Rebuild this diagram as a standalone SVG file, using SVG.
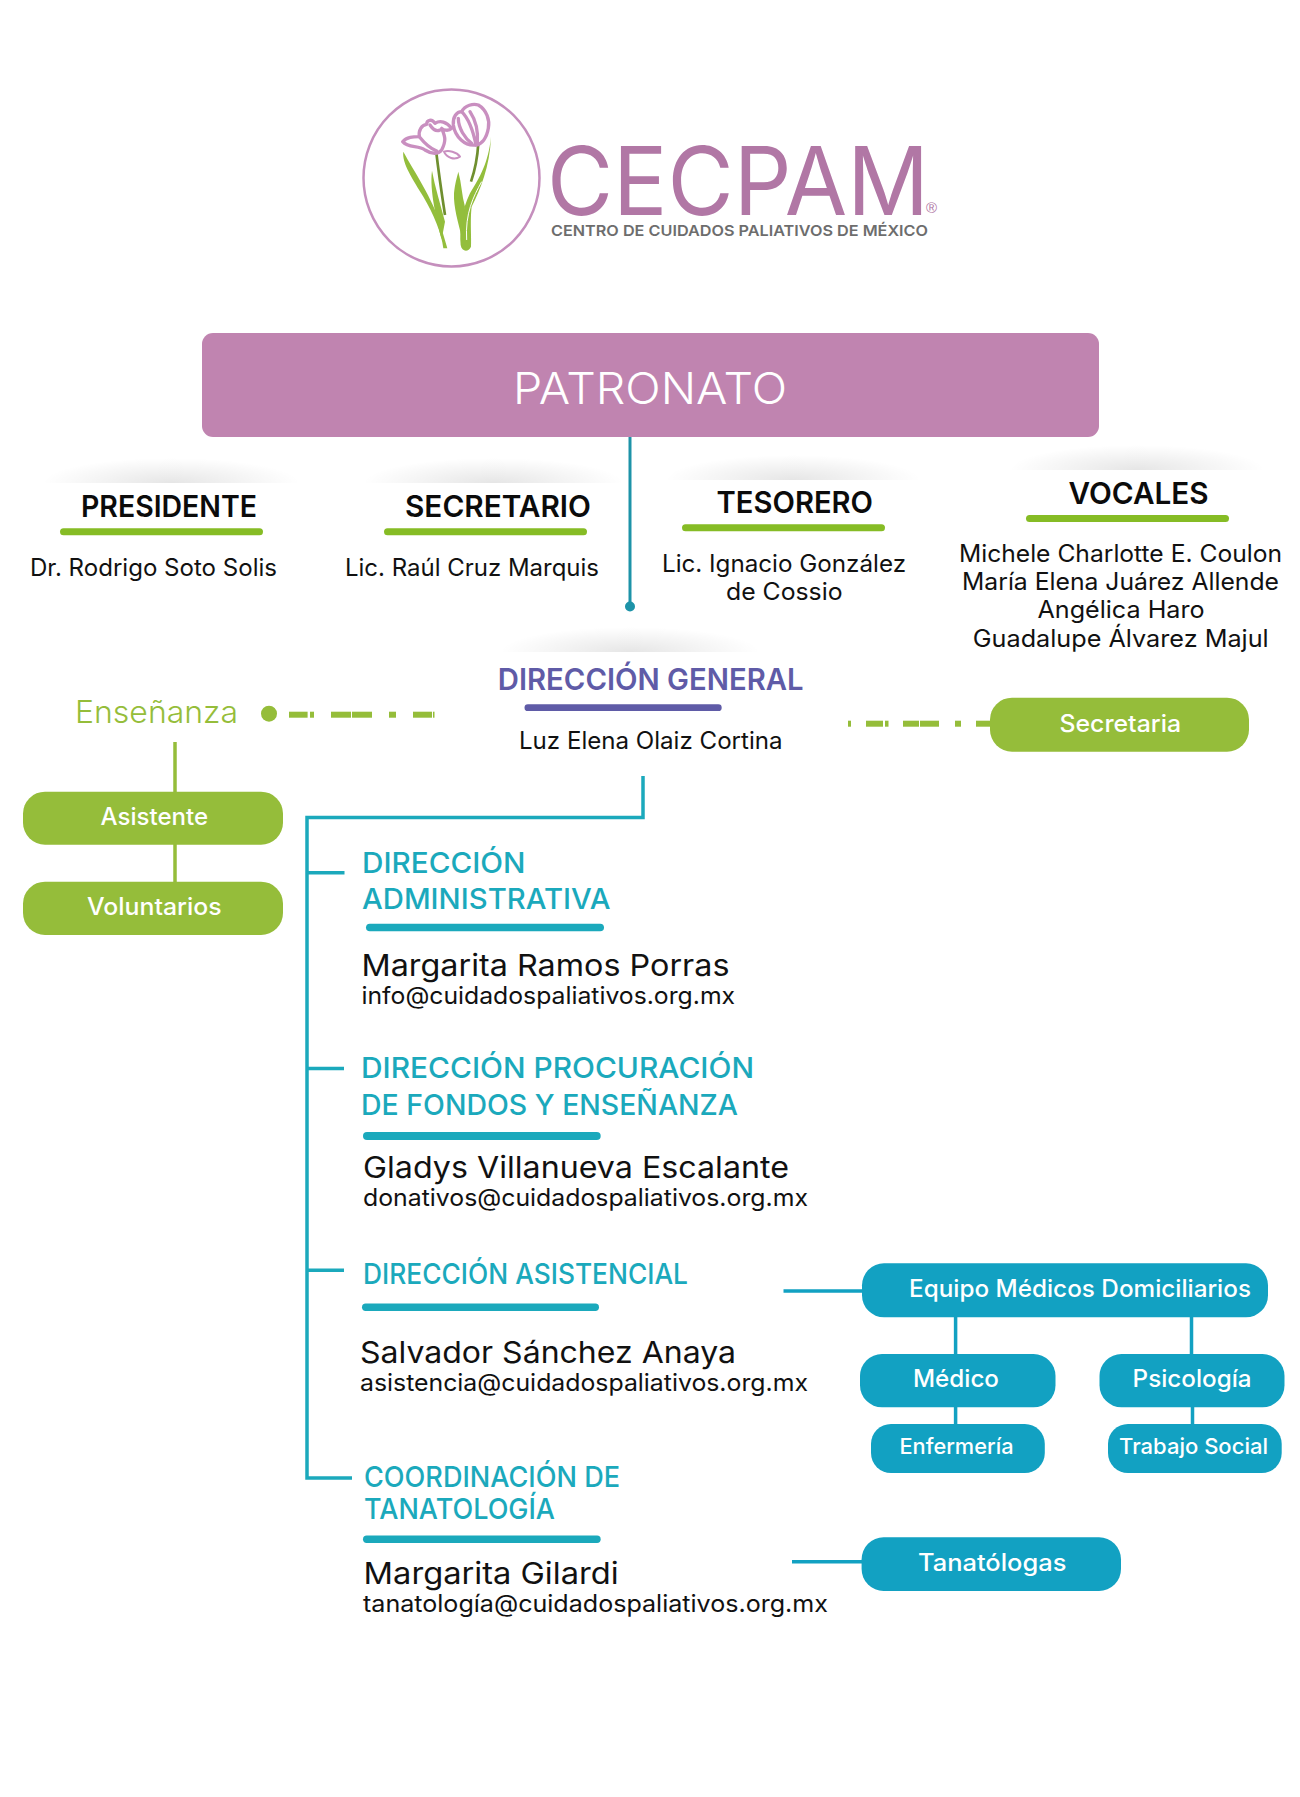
<svg xmlns="http://www.w3.org/2000/svg" width="1300" height="1797" viewBox="0 0 1300 1797">
<style>
text{font-family:"Inter","Noto Sans","Liberation Sans",sans-serif}
.h{font-size:30px;font-weight:600;fill:#0b0b0b}
.n{font-size:24px;font-weight:400;fill:#111}
.bar{fill:#86bc25}
.tbar{fill:#1ba9bc}
.th{font-size:28.5px;font-weight:500;fill:#1ba9bc}
.pn{font-size:30px;font-weight:400;fill:#111}
.em{font-size:24px;font-weight:400;fill:#111}
.gp{fill:#95bd3a}
.bp{fill:#12a1c2}
.pt{font-size:24px;font-weight:500;fill:#fff}
.ps{font-size:22px}
.sh{fill:url(#shade)}
.tl{fill:none;stroke:#1ba9bc;stroke-width:3.5}
.bl{fill:none;stroke:#12a1c2;stroke-width:3.5}
.gl{fill:none;stroke:#95bd3a;stroke-width:3.5}
.gd{fill:#95bd3a}
.pet{fill:none;stroke:#c98fc0;stroke-width:10;stroke-linecap:round;stroke-linejoin:round}
.leaf{fill:#93be3c}
</style>
<defs>
<radialGradient id="shade" cx="0.5" cy="1" r="1" gradientTransform="translate(.5 1) scale(.5 1) translate(-.5 -1)">
<stop offset="0" stop-color="#000" stop-opacity=".1"/>
<stop offset="1" stop-color="#000" stop-opacity="0"/>
</radialGradient>
</defs>
<rect width="1300" height="1797" fill="#fff"/>

<g id="logo">
<ellipse cx="451.5" cy="178" rx="88" ry="88.5" fill="none" stroke="#c58fbd" stroke-width="2.5"/>
<g transform="translate(390 150) scale(.3333)">
<path class="leaf" d="M40 5C70 60 130 150 150 220L172 295L160 295C155 250 130 190 100 140C70 90 35 40 40 5Z"/>
<path class="leaf" d="M126 62C135 110 150 160 165 215L155 268C140 210 118 120 126 62Z"/>
<path d="M138 0C145 60 155 130 165 195" fill="none" stroke="#6f8f2f" stroke-width="8"/>
<path d="M265 -20C262 30 255 60 243 95" fill="none" stroke="#6f8f2f" stroke-width="8"/>
<path class="leaf" d="M303 -40C300 50 270 120 245 170C240 210 245 270 243 290C235 308 215 305 212 285C208 240 215 180 240 130C270 80 295 40 303 -40Z"/>
<path class="leaf" d="M205 65C215 100 215 135 225 170L215 260C205 220 190 170 192 130C195 100 200 85 205 65Z"/>
<path d="M275 95C250 140 225 190 230 270" fill="none" stroke="#fff" stroke-width="3"/>
<g transform="translate(0 -165)">
<path class="pet" d="M258 150C225 155 195 125 190 90C188 65 200 50 215 50C225 30 250 25 265 30C290 45 300 75 295 100C290 130 275 148 258 150Z"/>
<path class="pet" d="M215 50C235 70 250 110 258 150M240 50C260 80 265 110 262 145M205 70C205 100 225 130 245 145"/>
<path class="pet" d="M38 140C50 125 70 125 88 125C85 105 95 90 110 88C110 75 125 70 135 85C150 75 170 80 185 100C175 110 160 105 155 100C165 125 170 135 155 165C145 178 125 178 105 165C85 150 55 160 38 140Z"/>
<path class="pet" d="M88 125C100 140 120 160 140 168M120 90C130 105 140 110 150 105"/>
<path class="pet" style="stroke-width:6" d="M162 170C175 165 200 170 210 185C195 195 170 190 162 170Z"/>
</g>
</g>
<text x="547" y="215" font-size="95" font-weight="400" fill="#b177a5" textLength="382" lengthAdjust="spacingAndGlyphs">CECPAM</text>
<text x="926" y="213" font-size="15" fill="#b177a5" style="font-family:'Liberation Sans',sans-serif">®</text>
<text x="551" y="236" font-size="15" font-weight="600" fill="#6d6d6d" textLength="377" lengthAdjust="spacingAndGlyphs">CENTRO DE CUIDADOS PALIATIVOS DE MÉXICO</text>
</g>

<g id="connectors">
<path d="M630 437V606" fill="none" stroke="#1d93a8" stroke-width="3"/>
<circle cx="630" cy="606.5" r="5" fill="#1d93a8"/>
<path class="tl" d="M643 776V817.5H307V1478H352M307 872.7H344.5M307 1068.6H344M307 1270.3H344"/>
<path class="bl" d="M783.5 1291H862M792 1561.7H862M955.6 1317V1424M1191.5 1317V1354M1192.5 1407V1424"/>
<path class="gl" d="M175 742V882"/>
<circle class="gd" cx="269" cy="713.7" r="8"/>
<g class="gd">
<rect x="289" y="711.7" width="18.6" height="6"/><rect x="310" y="711.7" width="4" height="6"/>
<rect x="331" y="711.7" width="20" height="6"/><rect x="352" y="711.7" width="20" height="6"/>
<rect x="389" y="711.7" width="7" height="6"/>
<rect x="413" y="711.7" width="19" height="6"/><rect x="433" y="711.7" width="1.5" height="6"/>
<rect x="848" y="720.7" width="3" height="6"/>
<rect x="866" y="720.7" width="17" height="6"/><rect x="885" y="720.7" width="3.5" height="6"/>
<rect x="903" y="720.7" width="16" height="6"/><rect x="920" y="720.7" width="19" height="6"/>
<rect x="955" y="720.7" width="6" height="6"/>
<rect x="976" y="720.7" width="14" height="6"/>
</g>
</g>

<g id="patronato">
<rect x="202" y="333" width="897" height="104" rx="11" fill="#c084b0"/>
<text x="513" y="403.5" font-size="44" font-weight="300" fill="#fff" textLength="274" lengthAdjust="spacingAndGlyphs">PATRONATO</text>
</g>

<g id="presidente">
<rect class="sh" x="42" y="458" width="258" height="25"/>
<text class="h" x="81" y="517" textLength="176" lengthAdjust="spacingAndGlyphs">PRESIDENTE</text>
<rect class="bar" x="60" y="528.3" width="203" height="7" rx="3.5"/>
<text class="n" x="30" y="576" textLength="247" lengthAdjust="spacingAndGlyphs">Dr. Rodrigo Soto Solis</text>
</g>
<g id="secretario">
<rect class="sh" x="363" y="458" width="261" height="25"/>
<text class="h" x="405" y="517" textLength="186" lengthAdjust="spacingAndGlyphs">SECRETARIO</text>
<rect class="bar" x="384" y="528.3" width="203" height="7" rx="3.5"/>
<text class="n" x="345" y="576" textLength="254" lengthAdjust="spacingAndGlyphs">Lic. Raúl Cruz Marquis</text>
</g>
<g id="tesorero">
<rect class="sh" x="665" y="455" width="256" height="25"/>
<text class="h" x="716.6" y="513" textLength="156.4" lengthAdjust="spacingAndGlyphs">TESORERO</text>
<rect class="bar" x="682" y="524.3" width="203" height="7" rx="3.5"/>
<text class="n" x="662" y="571.7" textLength="244" lengthAdjust="spacingAndGlyphs">Lic. Ignacio González</text>
<text class="n" x="726" y="600" textLength="116.5" lengthAdjust="spacingAndGlyphs">de Cossio</text>
</g>
<g id="vocales">
<rect class="sh" x="1009" y="445" width="256" height="25"/>
<text class="h" x="1068.6" y="504" textLength="140" lengthAdjust="spacingAndGlyphs">VOCALES</text>
<rect class="bar" x="1026" y="515" width="203" height="7" rx="3.5"/>
<text class="n" x="959" y="561.7" textLength="323" lengthAdjust="spacingAndGlyphs">Michele Charlotte E. Coulon</text>
<text class="n" x="962" y="590" textLength="317" lengthAdjust="spacingAndGlyphs">María Elena Juárez Allende</text>
<text class="n" x="1037.5" y="618.3" textLength="167" lengthAdjust="spacingAndGlyphs">Angélica Haro</text>
<text class="n" x="972.8" y="646.7" textLength="295.9" lengthAdjust="spacingAndGlyphs">Guadalupe Álvarez Majul</text>
</g>

<g id="direccion-general">
<rect class="sh" x="500" y="627" width="260" height="25"/>
<text x="497.8" y="690" font-size="30" font-weight="600" fill="#5f5ba7" textLength="305.8" lengthAdjust="spacingAndGlyphs">DIRECCIÓN GENERAL</text>
<rect x="524.5" y="704.3" width="197.2" height="6.8" rx="3.4" fill="#5f5ba7"/>
<text class="n" x="519" y="749" textLength="263.5" lengthAdjust="spacingAndGlyphs">Luz Elena Olaiz Cortina</text>
</g>

<g id="ensenanza">
<text x="75" y="722.7" font-size="31" font-weight="300" fill="#95bd3a" textLength="163" lengthAdjust="spacingAndGlyphs">Enseñanza</text>
</g>
<g id="secretaria">
<rect class="gp" x="990" y="697.7" width="259" height="54" rx="22"/>
<text class="pt" x="1059.5" y="732" textLength="121.5" lengthAdjust="spacingAndGlyphs">Secretaria</text>
</g>
<g id="asistente">
<rect class="gp" x="23" y="791.7" width="260" height="53" rx="22"/>
<text class="pt" x="100.6" y="825.3" textLength="107.4" lengthAdjust="spacingAndGlyphs">Asistente</text>
</g>
<g id="voluntarios">
<rect class="gp" x="23" y="881.7" width="260" height="53.3" rx="22"/>
<text class="pt" x="87" y="915.3" textLength="134.6" lengthAdjust="spacingAndGlyphs">Voluntarios</text>
</g>

<g id="direccion-administrativa">
<text class="th" x="362" y="873" textLength="163.5" lengthAdjust="spacingAndGlyphs">DIRECCIÓN</text>
<text class="th" x="362" y="909.2" textLength="248.5" lengthAdjust="spacingAndGlyphs">ADMINISTRATIVA</text>
<rect class="tbar" x="366" y="923.7" width="238" height="7.6" rx="3.8"/>
<text class="pn" x="361.5" y="976.4" textLength="368" lengthAdjust="spacingAndGlyphs">Margarita Ramos Porras</text>
<text class="em" x="361.5" y="1003.5" textLength="373.6" lengthAdjust="spacingAndGlyphs">info@cuidadospaliativos.org.mx</text>
</g>
<g id="direccion-procuracion">
<text class="th" x="361" y="1078" textLength="393" lengthAdjust="spacingAndGlyphs">DIRECCIÓN PROCURACIÓN</text>
<text class="th" x="361" y="1114.5" textLength="377" lengthAdjust="spacingAndGlyphs">DE FONDOS Y ENSEÑANZA</text>
<rect class="tbar" x="363" y="1132" width="237.7" height="8" rx="4"/>
<text class="pn" x="363" y="1177.7" textLength="426" lengthAdjust="spacingAndGlyphs">Gladys Villanueva Escalante</text>
<text class="em" x="363" y="1206.3" textLength="445" lengthAdjust="spacingAndGlyphs">donativos@cuidadospaliativos.org.mx</text>
</g>
<g id="direccion-asistencial">
<text class="th" x="363" y="1284" textLength="325" lengthAdjust="spacingAndGlyphs">DIRECCIÓN ASISTENCIAL</text>
<rect class="tbar" x="362" y="1303.6" width="237" height="7.4" rx="3.7"/>
<text class="pn" x="360" y="1362.5" textLength="376" lengthAdjust="spacingAndGlyphs">Salvador Sánchez Anaya</text>
<text class="em" x="360" y="1390.5" textLength="448" lengthAdjust="spacingAndGlyphs">asistencia@cuidadospaliativos.org.mx</text>
</g>
<g id="coordinacion-tanatologia">
<text class="th" x="364" y="1487" textLength="256" lengthAdjust="spacingAndGlyphs">COORDINACIÓN DE</text>
<text class="th" x="364" y="1519.2" textLength="191" lengthAdjust="spacingAndGlyphs">TANATOLOGÍA</text>
<rect class="tbar" x="363" y="1535.5" width="237.7" height="7.5" rx="3.7"/>
<text class="pn" x="363.6" y="1584" textLength="255" lengthAdjust="spacingAndGlyphs">Margarita Gilardi</text>
<text class="em" x="363" y="1611.5" textLength="465" lengthAdjust="spacingAndGlyphs">tanatología@cuidadospaliativos.org.mx</text>
</g>

<g id="equipo">
<rect class="bp" x="862" y="1263.3" width="406" height="54" rx="22"/>
<text class="pt" x="909" y="1297" textLength="342" lengthAdjust="spacingAndGlyphs">Equipo Médicos Domiciliarios</text>
</g>
<g id="medico">
<rect class="bp" x="860" y="1354" width="195.5" height="53.3" rx="22"/>
<text class="pt" x="913" y="1387" textLength="86" lengthAdjust="spacingAndGlyphs">Médico</text>
</g>
<g id="psicologia">
<rect class="bp" x="1099.5" y="1354" width="185" height="53.3" rx="22"/>
<text class="pt" x="1132.6" y="1387" textLength="119" lengthAdjust="spacingAndGlyphs">Psicología</text>
</g>
<g id="enfermeria">
<rect class="bp" x="871" y="1424" width="173.8" height="49" rx="20"/>
<text class="pt ps" x="899.5" y="1454" textLength="114" lengthAdjust="spacingAndGlyphs">Enfermería</text>
</g>
<g id="trabajo-social">
<rect class="bp" x="1108" y="1424" width="173.7" height="49" rx="20"/>
<text class="pt ps" x="1119" y="1454" textLength="149" lengthAdjust="spacingAndGlyphs">Trabajo Social</text>
</g>
<g id="tanatologas">
<rect class="bp" x="861.6" y="1537.3" width="259.4" height="53.7" rx="22"/>
<text class="pt" x="918" y="1570.5" textLength="148.4" lengthAdjust="spacingAndGlyphs">Tanatólogas</text>
</g>
</svg>
